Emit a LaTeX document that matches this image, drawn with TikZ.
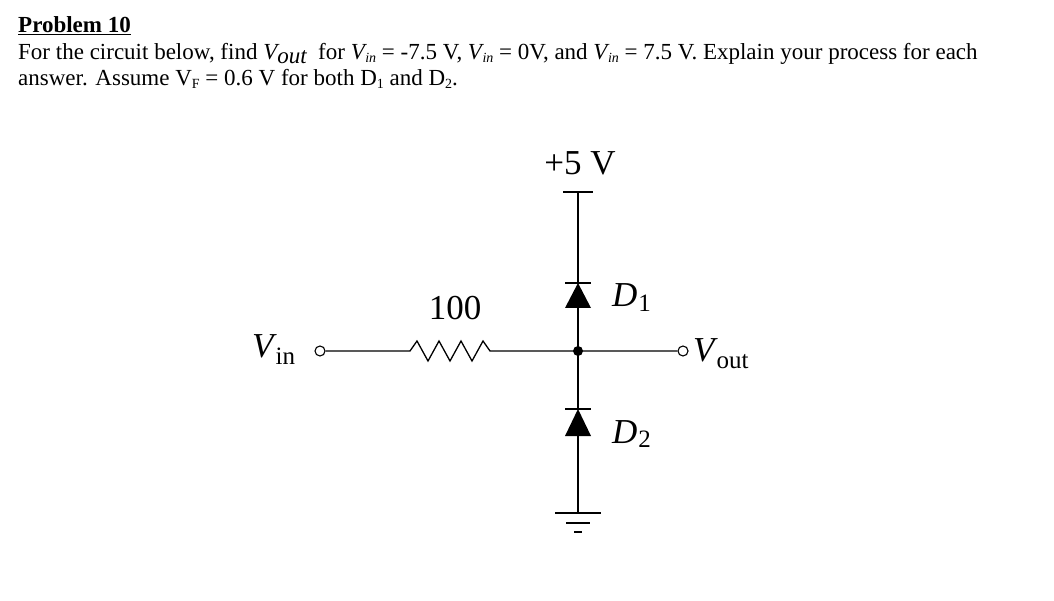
\documentclass[tikz,border=0pt]{standalone}
\usepackage{fontspec}
\setmainfont{Liberation Serif}
\begin{document}
\begin{tikzpicture}[x=1pt,y=-1pt,
  txt/.style={inner sep=0pt,font=\fontsize{23}{27}\selectfont},
  lbl/.style={inner sep=0pt,font=\fontsize{35}{40}\selectfont},
  wire/.style={line width=1.3pt},
  term/.style={circle,draw,line width=1.1pt,inner sep=0pt,minimum size=10pt,fill=white}]
\useasboundingbox (0,0) rectangle (1054,601);
\node[txt,anchor=base west] (t1) at (18,33) {\textbf{\underline{Problem 10}}};
\node[txt,anchor=base west] (t2) at (18,60) {For the circuit below, find {\itshape V}\raisebox{-0.35ex}{\itshape out}\ \ for {\itshape V\kern0.5pt\raisebox{-0.2ex}{\fontsize{14}{14}\selectfont in}} = -7.5 V, {\itshape V\kern0.5pt\raisebox{-0.2ex}{\fontsize{14}{14}\selectfont in}} = 0V, and {\itshape V\kern0.5pt\raisebox{-0.2ex}{\fontsize{14}{14}\selectfont in}} = 7.5 V. Explain your process for each};
\node[txt,anchor=base west] (t3) at (18,86) {answer. Assume V\raisebox{-0.2ex}{\fontsize{14}{14}\selectfont F} = 0.6 V for both D\raisebox{-0.2ex}{\fontsize{14}{14}\selectfont 1} and D\raisebox{-0.2ex}{\fontsize{14}{14}\selectfont 2}.};
% nodes
\coordinate (top) at (578,192);
\coordinate (j) at (578,351);
\coordinate (gnd) at (578,513);
\coordinate (r1) at (410,351);
\coordinate (r2) at (490,351);
\node[term] (vin) at (320,351) {};
\node[term] (vout) at (683,351) {};
% supply
\draw[wire] (563,192) -- (593,192);
\draw[wire] (top) -- (578,283);
\draw[wire] (565,283) -- (591,283);
\fill (578,283) -- (591,308) -- (565,308) -- cycle;
\draw[wire] (578,308) -- (j);
\draw[wire] (j) -- (578,409);
\draw[wire] (565,409) -- (591,409);
\fill (578,409) -- (591,436) -- (565,436) -- cycle;
\draw[wire] (578,436) -- (gnd);
\draw[wire] (555,513) -- (601,513);
\draw[wire] (566,523) -- (590,523);
\draw[wire] (574,532) -- (582,532);
\fill (j) circle (5);
% horizontal
\draw[wire] (vin) -- (r1) -- (417,341) -- (428,361) -- (439,341) -- (450,361) -- (461,341) -- (472,361) -- (483,341) -- (r2) -- (j) -- (vout);
\node[lbl] (l5) at (580,163) {+5 V};
\node[lbl] (l100) at (455,308) {100};
\node[lbl,anchor=base west] (lD1) at (612,307) {\itshape D\kern1pt\raisebox{-0.25ex}{\upshape\fontsize{25}{25}\selectfont 1}};
\node[lbl,anchor=base west] (lD2) at (612,443) {\itshape D\kern1pt\raisebox{-0.25ex}{\upshape\fontsize{25}{25}\selectfont 2}};
\node[lbl,anchor=base west] (lvin) at (252,357) {\itshape V\kern2pt\raisebox{-0.45ex}{\upshape\fontsize{25}{25}\selectfont in}};
\node[lbl,anchor=base west] (lvout) at (693,361) {\itshape V\kern2pt\raisebox{-0.45ex}{\upshape\fontsize{25}{25}\selectfont out}};
\end{tikzpicture}
\end{document}
